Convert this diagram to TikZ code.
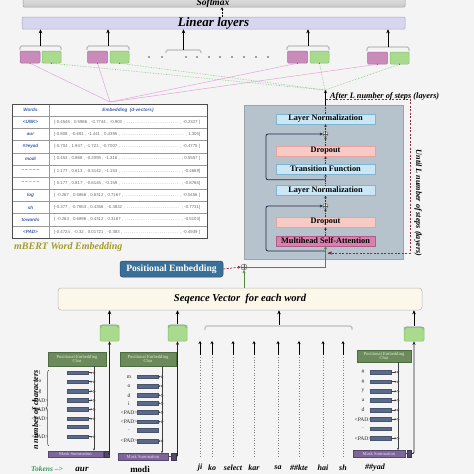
\documentclass[tikz,border=0pt]{standalone}
\usepackage{fontspec}
\setmainfont{Liberation Serif}
\setsansfont{Liberation Sans}
\usetikzlibrary{arrows.meta,decorations.pathreplacing,calc}
\definecolor{bgc}{HTML}{F4F4F4}
\definecolor{linfill}{HTML}{D6D6EE}
\definecolor{linbord}{HTML}{A8A8C8}
\definecolor{pinkf}{HTML}{C98BBA}
\definecolor{pinkd}{HTML}{B0709F}
\definecolor{greenf}{HTML}{A9DA8E}
\definecolor{greend}{HTML}{8CC070}
\definecolor{pinkl}{HTML}{E2A6D6}
\definecolor{greenl}{HTML}{86C486}
\definecolor{grayb}{HTML}{B6C2CC}
\definecolor{graybd}{HTML}{98A4AE}
\definecolor{lnf}{HTML}{CBE7F6}
\definecolor{lnd}{HTML}{7FB4D0}
\definecolor{dof}{HTML}{F7CAC6}
\definecolor{dod}{HTML}{E3A3A0}
\definecolor{msaf}{HTML}{D981AE}
\definecolor{msad}{HTML}{B45A8A}
\definecolor{navy}{HTML}{1E2B48}
\definecolor{dred}{HTML}{8A2A3C}
\definecolor{pef}{HTML}{3A6F97}
\definecolor{seqf}{HTML}{FBF8EA}
\definecolor{seqd}{HTML}{B8B8B0}
\definecolor{grn}{HTML}{4F8A3C}
\definecolor{tblue}{HTML}{3C5FA8}
\definecolor{tgray}{HTML}{6A6A6A}
\definecolor{olive}{HTML}{A59C28}
\definecolor{pecf}{HTML}{6C8B5C}
\definecolor{pecd}{HTML}{4E6B40}
\definecolor{pect}{HTML}{DDEBD0}
\definecolor{chr}{HTML}{5B6A88}
\definecolor{maskf}{HTML}{7E669B}
\definecolor{maskt}{HTML}{E6DEF0}
\definecolor{tokc}{HTML}{3A9A5C}
\tikzset{
  bx/.style={draw, inner sep=0pt, line width=0.5pt},
  upar/.style={-{Stealth[length=4pt,width=3.5pt]}, line width=1pt, black},
  brk/.style={draw=gray!85, line width=0.6pt, rounded corners=1.5pt},
  pkbox/.style={bx, fill=pinkf, draw=pinkd, rounded corners=1pt, minimum width=20pt, minimum height=12pt},
  gnbox/.style={bx, fill=greenf, draw=greend, rounded corners=1pt, minimum width=19pt, minimum height=12pt},
  inbox/.style={bx, minimum width=99pt, minimum height=10pt, font=\fontsize{8.3}{8.5}\selectfont\bfseries},
  oplus/.style={circle, draw=gray!70!black, fill=white!85!gray, line width=0.4pt, inner sep=0pt, minimum size=5pt,
    path picture={\draw[gray!70!black, line width=0.3pt] (path picture bounding box.north) -- (path picture bounding box.south) (path picture bounding box.west) -- (path picture bounding box.east);}},
  vd/.style={densely dotted, line width=0.6pt, -{Stealth[length=2.5pt,width=2.5pt]}, black!80},
  loopl/.style={navy, line width=0.8pt, rounded corners=2pt, -{Stealth[length=3pt,width=3pt]}},
  reddash/.style={dred, dashed, line width=0.7pt, dash pattern=on 2pt off 1.5pt},
  grline/.style={grn, line width=0.9pt},
  wcol/.style={font=\fontsize{4.6}{5}\selectfont\sffamily\bfseries\itshape, text=tblue, inner sep=0pt},
  tvs/.style={anchor=west, text width=146pt, inner sep=0pt, font=\fontsize{4.3}{5}\selectfont\sffamily, text=tgray},
  pec/.style={bx, fill=pecf, draw=pecd, text=pect, align=center, font=\fontsize{4.6}{4.8}\selectfont},
  chlab/.style={inner sep=0pt, font=\fontsize{5.5}{6}\selectfont, text=black!85},
  chrect/.style={bx, fill=chr, draw=chr!80!black, minimum height=3.5pt, line width=0.3pt},
  dotc/.style={circle, draw=black!70, fill=white, inner sep=0pt, minimum size=2.4pt, line width=0.35pt},
  charr/.style={line width=0.5pt, black!75, -{Stealth[length=2pt,width=2pt]}},
  maskn/.style={bx, fill=maskf, draw=maskf!70!black, text=maskt, minimum height=6.5pt, font=\fontsize{4.6}{5}\selectfont},
  sbox/.style={bx, fill=maskf!70!black, draw=maskf!50!black, minimum height=6.5pt},
  feed/.style={line width=0.9pt, black!85, rounded corners=1pt, -{Stealth[length=3.5pt,width=3pt]}},
  wlab/.style={inner sep=0pt, font=\fontsize{8}{9}\selectfont\bfseries\itshape},
  wdot/.style={dotted, line width=0.6pt, gray},
  wup/.style={-{Stealth[length=3pt,width=3pt]}, line width=0.8pt, black},
}
\newcommand\bracketat[4]{\draw[brk] (#1,#4) -- (#1,#3) -- (#2,#3) -- (#2,#4);}
\begin{document}
\begin{tikzpicture}[x=1pt,y=-1pt]
\fill[bgc] (0,0) rectangle (474,474);
\useasboundingbox (0,0) rectangle (474,474);

% ---------- Softmax and linear layers
\node[bx, draw=gray!75, top color=gray!18, bottom color=gray!42, minimum width=382pt, minimum height=13pt, rounded corners=1pt] (smx) at (214,0.5) {};
\node[inner sep=0pt, font=\fontsize{9.5}{10}\selectfont\bfseries\itshape] at (213,3.6) {Softmax};
\node[bx, fill=linfill, draw=linbord, minimum width=383pt, minimum height=12pt, rounded corners=1pt,
  font=\fontsize{13}{13}\selectfont\bfseries\itshape] (lin) at (213.5,23) {Linear layers};
\draw[-{Stealth[length=2.5pt,width=2.5pt]}, densely dotted, line width=0.5pt] (lin.north -| 222,0) -- (smx.south -| 222,0);

% ---------- output pairs
\node[pkbox] (p1) at (30,57) {};   \node[gnbox] (g1) at (51.5,57) {};
\node[pkbox] (p2) at (97.5,57) {}; \node[gnbox] (g2) at (119.5,57) {};
\node[pkbox] (p4) at (297.5,57) {};\node[gnbox] (g4) at (319.5,57) {};
\node[pkbox] (p5) at (377.5,58) {};\node[gnbox] (g5) at (399.5,58) {};
\bracketat{20}{61}{46}{50}
\bracketat{87}{129}{46}{50}
\bracketat{166}{201}{50}{53}
\bracketat{287}{329}{46}{50}
\bracketat{367}{409}{47}{51}
\coordinate (b1) at (40.5,46); \coordinate (b2) at (108,46); \coordinate (b3) at (183.5,50);
\coordinate (b4) at (308,46); \coordinate (b5) at (388,47);
\foreach \b in {b1,b2,b3,b4,b5} \draw[upar] (\b) -- (\b |- lin.south);
\foreach \x in {149,162,186,197,209,220,232,244,256,268} \fill[black!70] (\x,57) circle (0.8pt);

% hubs
\coordinate (pinkhub) at (110,102);
\coordinate (greenhub) at (325,90);
\foreach \p in {p1,p2,p4,p5} \draw[pinkl, line width=0.5pt] (\p.south) -- (pinkhub);
\foreach \g in {g1,g2,g4,g5} \draw[greenl, densely dotted, line width=0.6pt] (\g.south) -- (greenhub);
\foreach \p in {p1,p2,p4,p5} \fill[black!60] (\p.south) circle (0.6pt);
\foreach \g in {g1,g2,g4,g5} \fill[black!60] (\g.south) circle (0.6pt);

% ---------- embedding table
\fill[white] (12,104) rectangle (207,238);
\foreach \i in {1,...,10} \draw[gray!80, line width=0.4pt] (12,{104+12.18*\i}) -- (207,{104+12.18*\i});
\draw[gray!80, line width=0.4pt] (49,104) -- (49,238);
\draw[gray!60!black, line width=0.6pt] (12,104) rectangle (207,238);
\node[wcol] at (30.5,110.1) {Words};
\node[wcol] at (128,110.1) {Embedding\enspace(d-vectors)};
\foreach \w/\yy in {<UNK>/122.3, aur/134.5, \#\#eyad/146.6, modi/158.8, -- -- -- -- --/171.0, -- -- -- -- --/183.2, log/195.4, sh/207.5, towards/219.7, <PAD>/231.9}
  \node[wcol] at (30.5,\yy) {\w};
\node[tvs] at (54,122.3) {[-0.4545 , 0.5986 , -0.7744 , -0.903 , \dotfill{} , -0.2327 ]};
\node[tvs] at (54,134.5) {[-0.808 , -0.691 , -1.441 , 0.4395 , \dotfill{} , 1.305]};
\node[tvs] at (54,146.6) {[-0.704 , 1.947 , -1.721 , -0.7007 , \dotfill{} , -0.4775 ]};
\node[tvs] at (54,158.8) {[ 0.453 , 0.868 , -0.2095 , -1.316 , \dotfill{} , 0.5557 ]};
\node[tvs] at (54,171.0) {[ 1.177 , 0.613 , -0.3142 , -1.153 , \dotfill{} , -0.4669]};
\node[tvs] at (54,183.2) {[ 0.177 , 0.817 , -0.6145 , -0.159 , \dotfill{} , -0.8765]};
\node[tvs] at (54,195.4) {[ -0.267 , 0.5866 , 0.6312 , 0.7167 , \dotfill{} , -0.5456 ]};
\node[tvs] at (54,207.5) {[-0.377 , -0.7653 , 0.4356 , -0.3832 , \dotfill{} , -0.7731]};
\node[tvs] at (54,219.7) {[ -0.263 , 0.6896 , 0.4312 , 0.3167 , \dotfill{} , -0.5103]};
\node[tvs] at (54,231.9) {[-0.4724 , -0.32 , 0.01721 , -0.383 , \dotfill{} , -0.4939 ]};
\node[anchor=west, inner sep=0pt, text=olive, font=\fontsize{10}{11}\selectfont\bfseries\itshape] (mbert) at (14,247) {mBERT Word Embedding};

% ---------- encoder block
\node[bx, fill=grayb, draw=graybd, minimum width=159pt, minimum height=154pt] (gbox) at (323.5,182) {};
\node[inbox, fill=lnf, draw=lnd] (ln1) at (325.5,119) {Layer Normalization};
\node[oplus] (c1) at (325.5,134) {};
\node[inbox, fill=dof, draw=dod] (do1) at (325.5,151) {Dropout};
\node[inbox, fill=lnf, draw=lnd] (tf) at (325.5,169) {Transition Function};
\node[inbox, fill=lnf, draw=lnd] (ln2) at (325.5,190.5) {Layer Normalization};
\node[oplus] (c2) at (325.5,206) {};
\node[inbox, fill=dof, draw=dod] (do2) at (325.5,222) {Dropout};
\node[inbox, fill=msaf, draw=msad] (msa) at (325.5,241) {Multihead Self-Attention};
\draw[vd] (msa.north) -- (do2.south);
\draw[vd] (do2.north) -- (c2.south);
\draw[vd] (c2.north) -- (ln2.south);
\draw[vd] (ln2.north) -- (tf.south);
\draw[vd] (tf.north) -- (do1.south);
\draw[vd] (do1.north) -- (c1.south);
\draw[vd] (c1.north) -- (ln1.south);
\draw[densely dotted, line width=0.6pt, black!80] (ln1.north) -- (ln1.north |- gbox.north);
\draw[-{Stealth[length=3pt,width=3pt]}, line width=0.8pt] (ln1.north |- gbox.north) -- (ln1.north |- greenhub);
\coordinate (lp1) at ($(tf.south)!0.5!(ln2.north)$);
\coordinate (lp2) at (325.5,251);
\draw[loopl] (lp1) -- (266,179.75) -- (266,134) -- (c1.west);
\draw[loopl] (lp2) -- (266,251) -- (266,206) -- (c2.west);
\node[anchor=west, inner sep=0pt, font=\fontsize{8.3}{9}\selectfont\bfseries\itshape] (after) at (330,96) {After L number of steps (layers)};
\node[rotate=-90, inner sep=0pt, font=\fontsize{8.1}{9}\selectfont\bfseries\itshape] (until) at (418,203) {Until L number of steps (layers)};
\coordinate (rd1) at (325.5,99);
\coordinate (rd2) at (327.5,253);
\draw[reddash] (rd1) -- (410,99) -- (410,253) -- (rd2);
\fill[dred] (rd2) -- ++(4,-1.6) -- ++(0,3.2) -- cycle;

% ---------- positional embedding and sequence vector
\node[bx, fill=seqf, draw=seqd, minimum width=364pt, minimum height=22pt, rounded corners=3pt,
  font=\fontsize{10.6}{11}\selectfont\bfseries\itshape] (seq) at (240,299) {Seqence Vector\enspace for each word};
\node[bx, fill=pef, draw=pef!70!black, rounded corners=2.5pt, minimum width=103pt, minimum height=16pt, text=white,
  font=\fontsize{9.6}{10}\selectfont\bfseries] (pe) at (171.5,269) {Positional Embedding};
\node[oplus, minimum size=6pt] (cpe) at (244,267) {};
\draw[reddash, -{Stealth[length=3pt,width=3pt]}] (pe.east) -- (cpe.west);
\draw[grline, -{Stealth[length=3pt,width=3pt]}] (seq.north -| cpe) -- (cpe.south);
\draw[grline, -{Stealth[length=3pt,width=3pt]}] (cpe.east) -| (msa.south);

% ---------- word vectors
\node[gnbox, minimum width=19pt, minimum height=16pt] (wb1) at (109.5,333) {};
\node[gnbox, minimum width=19pt, minimum height=16pt] (wb2) at (177.5,333) {};
\node[gnbox, minimum width=20pt, minimum height=14pt] (wb3) at (414,334) {};
\bracketat{101}{118}{325}{328}
\bracketat{169}{186}{325}{328}
\bracketat{405}{423}{327}{330}
\bracketat{205}{352}{326}{330}
\coordinate (t1) at (109.5,324); \coordinate (t2) at (177.5,324);
\coordinate (t3) at (414,326); \coordinate (t4) at (279,325);
\foreach \t in {t1,t2,t3,t4} \draw[upar] (\t) -- (\t |- seq.south);

% subword tokens
\foreach \x/\w [count=\i] in {200/ji, 212/ko, 233/select, 254/kar, 278/sa, 299/\#\#kte, 323/hai, 343/sh} {
  \coordinate (wa\i) at (\x,355);
  \draw[wdot] (\x,357) -- (\x,458);
  \draw[wup] (wa\i) -- ++(0,-14);
  \node[wlab] (tok\i) at (\x,468) {\w};
}
\node[wlab] (tok9) at (375,468) {\#\#yad};
\node[wlab, font=\fontsize{9}{10}\selectfont\bfseries\itshape] (tokaur) at (82,469) {aur};
\node[wlab, font=\fontsize{9}{10}\selectfont\bfseries] (tokmodi) at (140,469) {modi};
\node[wlab, text=tokc, font=\fontsize{7.5}{8}\selectfont\bfseries\itshape] (tokens) at (47,469) {Tokens -->};

% ---------- char block 1 (aur)
\node[pec, minimum width=58pt, minimum height=14pt] (pec1) at (77,359) {Positional Embedding\\Char};
\foreach \lab/\yy/\ar [count=\i] in {l/372.7/1, o/381.7/1, g/391.3/1, <PAD>/400.3/1, <PAD>/409.3/1, <PAD>/418.7/1, ./426.7/0, <PAD>/436.7/1} {
  \node[chlab] (la\i) at (40,\yy) {\lab};
  \node[chrect, minimum width=21pt] (ra\i) at (77.5,\yy) {};
  \ifnum\ar=1
    \node[dotc] (da\i) at (94,\yy) {};
    \draw[charr] (ra\i) -- (da\i);
  \fi
}
\node[maskn, minimum width=55pt] (mask1) at (75.5,454) {Mask Summation};
\node[sbox, minimum width=5pt] (sb1) at (106.5,454) {};
\draw[charr] (pec1.south -| da1) -- (mask1.north -| da1);
\draw[line width=0.4pt, black!70] (mask1.east) -- (sb1.west);
\draw[feed] (sb1.east) -| (wb1.south);
\draw[decorate, decoration={brace, amplitude=3pt}, line width=0.5pt, black!70] (49,446) -- (49,370);
\node[rotate=90, inner sep=0pt, font=\fontsize{8.2}{9}\selectfont\bfseries\itshape] (nchar) at (36,410) {n number of characters};

% ---------- char block 2 (modi)
\node[pec, minimum width=56pt, minimum height=14pt] (pec2) at (148,359) {Positional Embedding\\Char};
\foreach \lab/\yy/\ar [count=\i] in {m/376.7/1, o/386/1, d/395.3/1, i/403.3/1, <PAD>/412.3/1, <PAD>/421.7/1, ./430/0, <PAD>/441/1} {
  \node[chlab] (lb\i) at (129,\yy) {\lab};
  \node[chrect, minimum width=21pt] (rb\i) at (147.5,\yy) {};
  \ifnum\ar=1
    \node[dotc] (db\i) at (162,\yy) {};
    \draw[charr] (rb\i) -- (db\i);
  \fi
}
\node[maskn, minimum width=50pt] (mask2) at (143,456.5) {Mask Summation};
\node[sbox, minimum width=5pt] (sb2) at (173.5,456.5) {};
\draw[charr] (pec2.south -| db1) -- (mask2.north -| db1);
\draw[line width=0.4pt, black!70] (mask2.east) -- (sb2.west);
\draw[feed] (sb2.east) -| (wb2.south);

% ---------- char block 3 (##yad)
\node[pec, minimum width=54pt, minimum height=12pt] (pec3) at (384,356) {Positional Embedding\\Char};
\foreach \lab/\yy/\ar [count=\i] in {\#/372/1, \#/381.7/1, y/391.3/1, a/400.3/1, d/410/1, <PAD>/419.3/1, ./428.7/0, <PAD>/438.3/1} {
  \node[chlab] (lc\i) at (363,\yy) {\lab};
  \node[chrect, minimum width=21pt] (rc\i) at (380.5,\yy) {};
  \ifnum\ar=1
    \node[dotc] (dc\i) at (398,\yy) {};
    \draw[charr] (rc\i) -- (dc\i);
  \fi
}
\node[maskn, minimum width=52pt] (mask3) at (379,453.5) {Mask Summation};
\node[sbox, minimum width=4pt] (sb3) at (409,453.5) {};
\draw[charr] (pec3.south -| dc1) -- (mask3.north -| dc1);
\draw[line width=0.4pt, black!70] (mask3.east) -- (sb3.west);
\draw[feed] (sb3.east) -| (wb3.south);
\end{tikzpicture}
\end{document}
